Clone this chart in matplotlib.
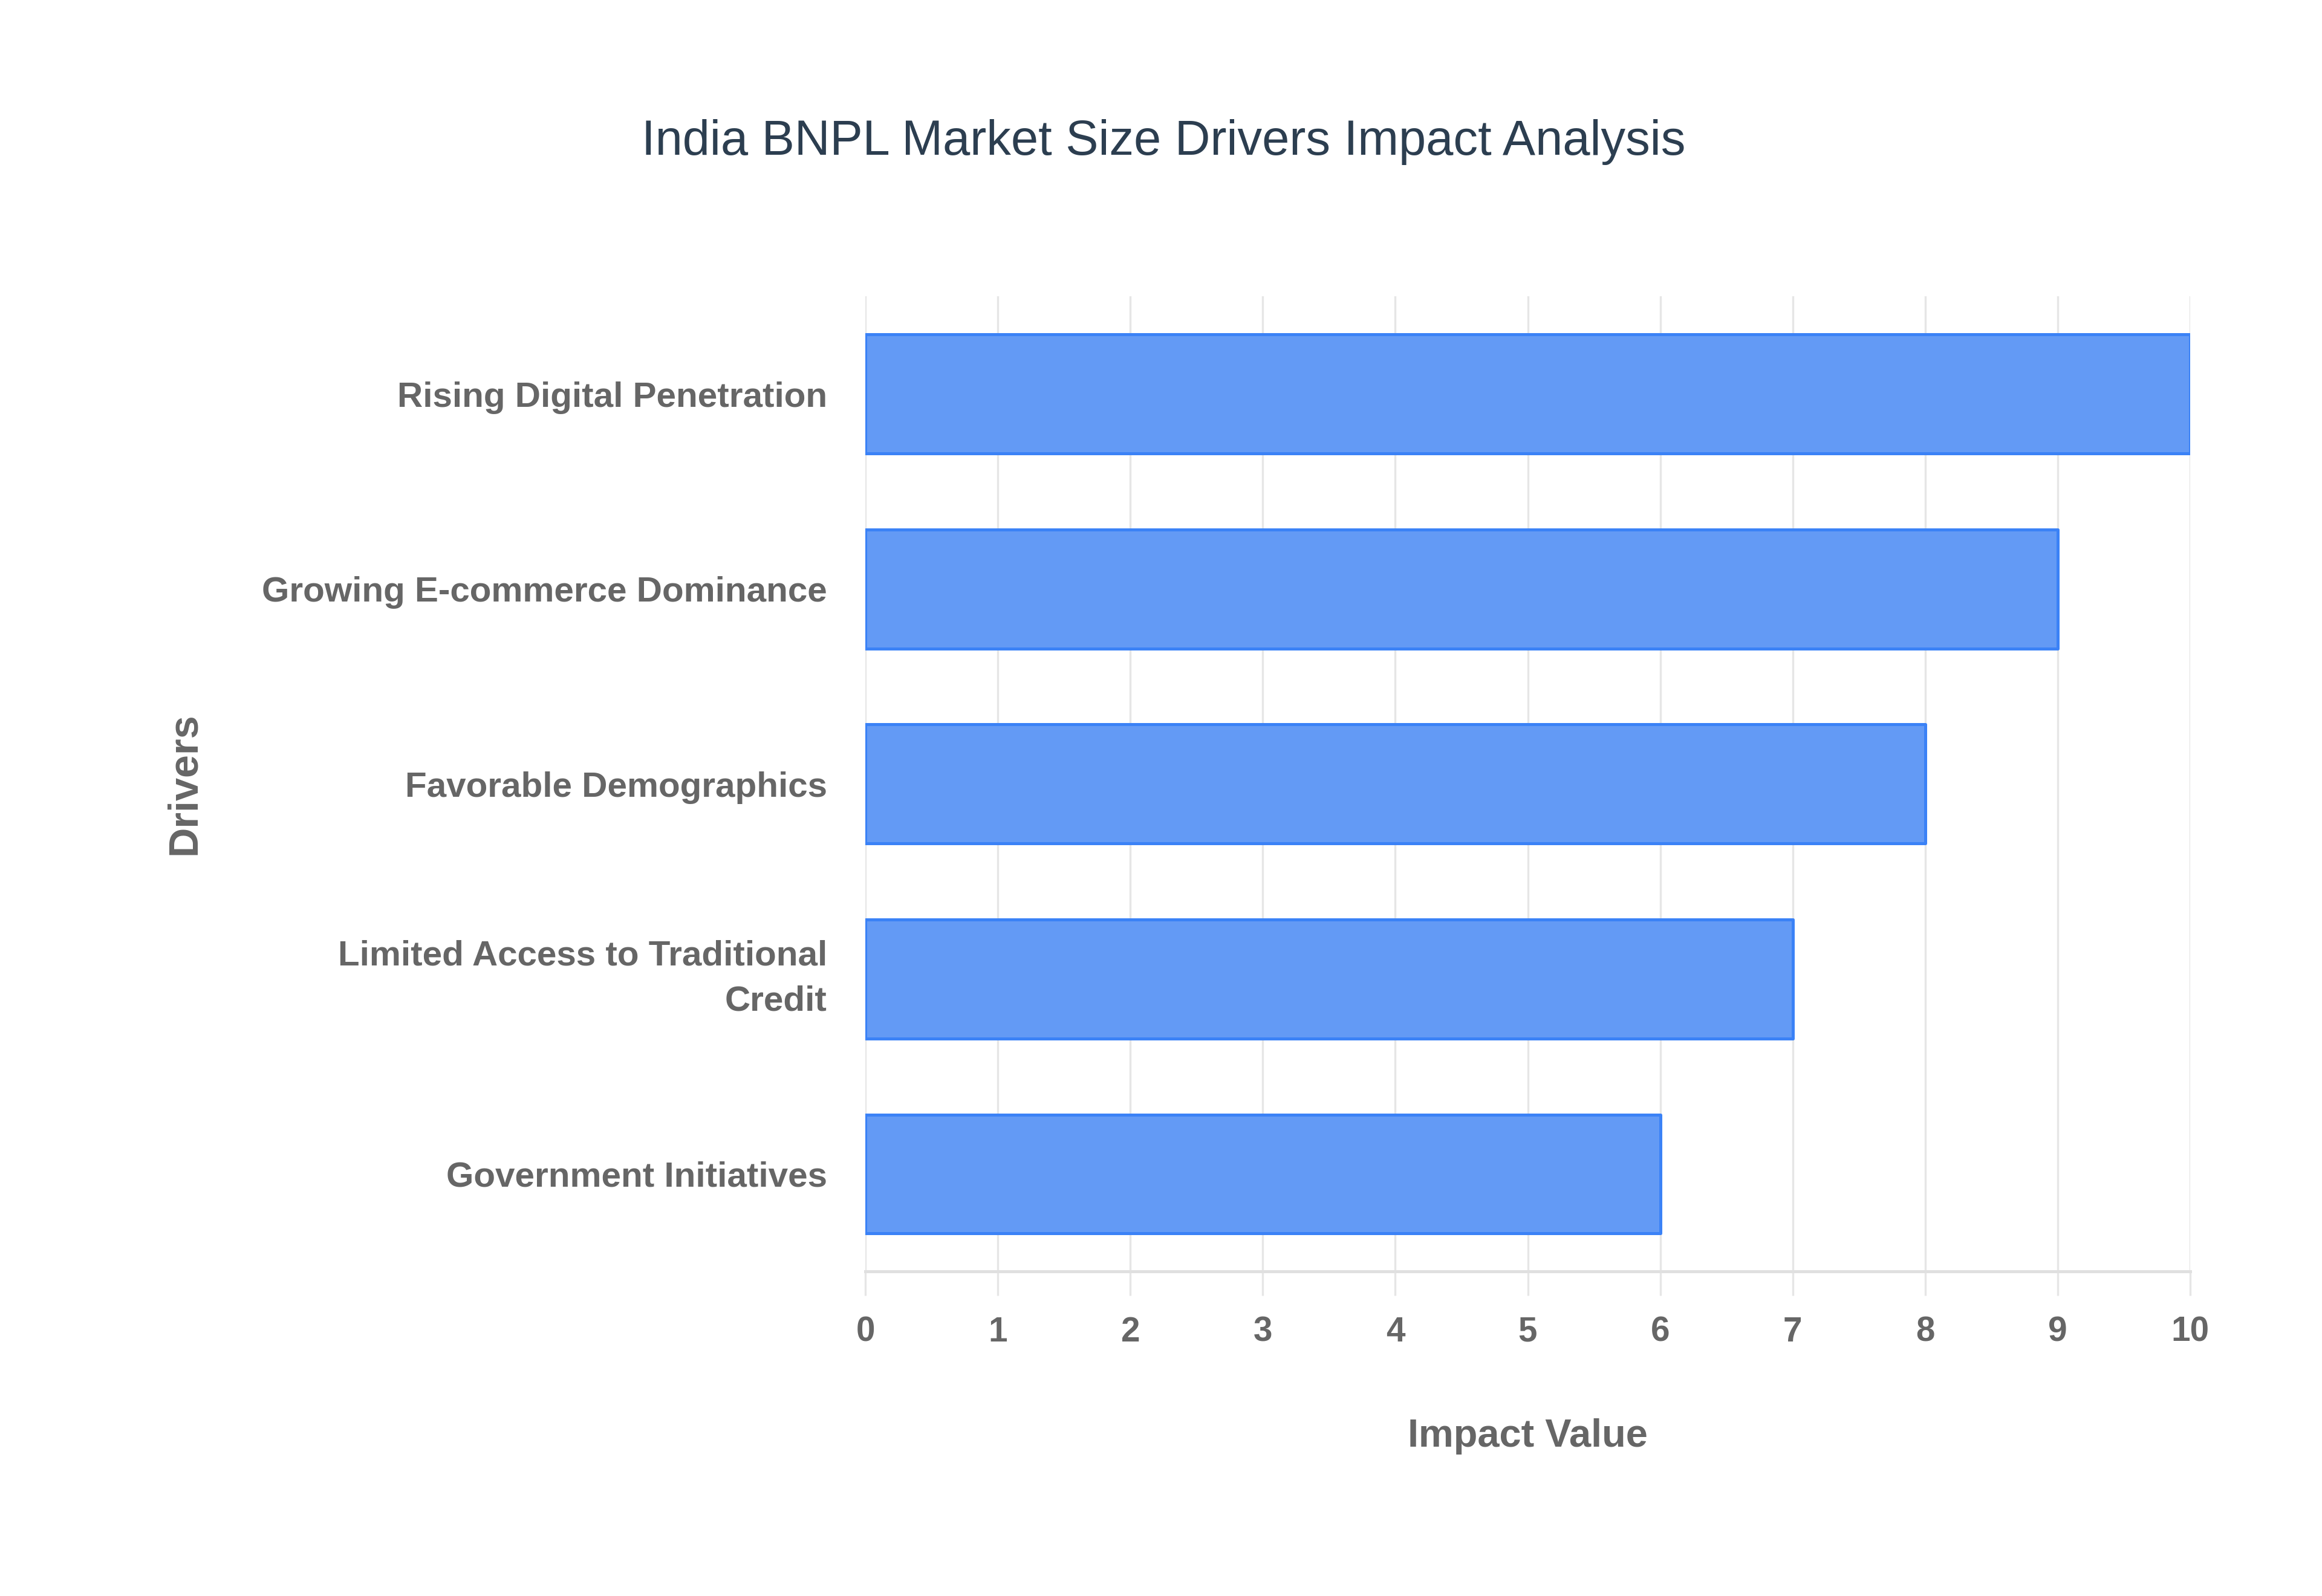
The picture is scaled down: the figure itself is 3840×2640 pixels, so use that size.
import matplotlib
matplotlib.use("Agg")
import matplotlib.pyplot as plt

drivers = [
    "Rising Digital Penetration",
    "Growing E-commerce Dominance",
    "Favorable Demographics",
    "Limited Access to Traditional\nCredit",
    "Government Initiatives",
]
impact = [10, 9, 8, 7, 6]
x_ticks = [0, 1, 2, 3, 4, 5, 6, 7, 8, 9, 10]

title = "India BNPL Market Size Drivers Impact Analysis"
x_label = "Impact Value"
y_label = "Drivers"

plt.rcParams['font.family'] = ['Liberation Sans', 'DejaVu Sans']

fig = plt.figure(figsize=(16, 11), dpi=240)
ax = fig.add_axes([0.3727, 0.2033, 0.5705, 0.611])

ypos = list(range(len(drivers)))
ax.barh(ypos, impact, height=0.61, color="#639AF5", edgecolor="#3B82F6",
        linewidth=1.5, joinstyle="round", zorder=3)

ax.set_xlim(0, 10)
ax.set_ylim(len(drivers) - 0.5, -0.5)
ax.set_yticks(ypos)
ax.set_yticklabels(drivers, fontsize=17.5, fontweight="bold", color="#666666",
                   ha="right", linespacing=1.5)
for lbl in ax.get_yticklabels():
    if "\n" in lbl.get_text():
        lbl.set_va("center")
ax.set_xticks(x_ticks)
ax.set_xticklabels([str(v) for v in x_ticks], fontsize=17, fontweight="bold",
                   color="#666666")

ax.grid(axis="x", color="#E6E6E6", linewidth=1.0, zorder=0)
ax.grid(axis="y", visible=False)
for side in ["top", "right", "left"]:
    ax.spines[side].set_visible(False)
ax.spines["bottom"].set_color("#E0E0E0")
ax.spines["bottom"].set_linewidth(1.5)
ax.tick_params(axis="y", length=0, pad=19)
ax.tick_params(axis="x", length=12, width=1.0, color="#E6E6E6", pad=10,
               direction="out")

fig.text(0.501, 0.911, title, ha="center", va="center", fontsize=24.4,
         color="#2C3E50")
fig.text(0.658, 0.100, x_label, ha="center", va="center", fontsize=19.5,
         fontweight="bold", color="#666666")
fig.text(0.0795, 0.509, y_label, ha="center", va="center", fontsize=20.5,
         fontweight="bold", color="#666666", rotation=90)

fig.savefig("out.png", dpi=240, facecolor="white")
